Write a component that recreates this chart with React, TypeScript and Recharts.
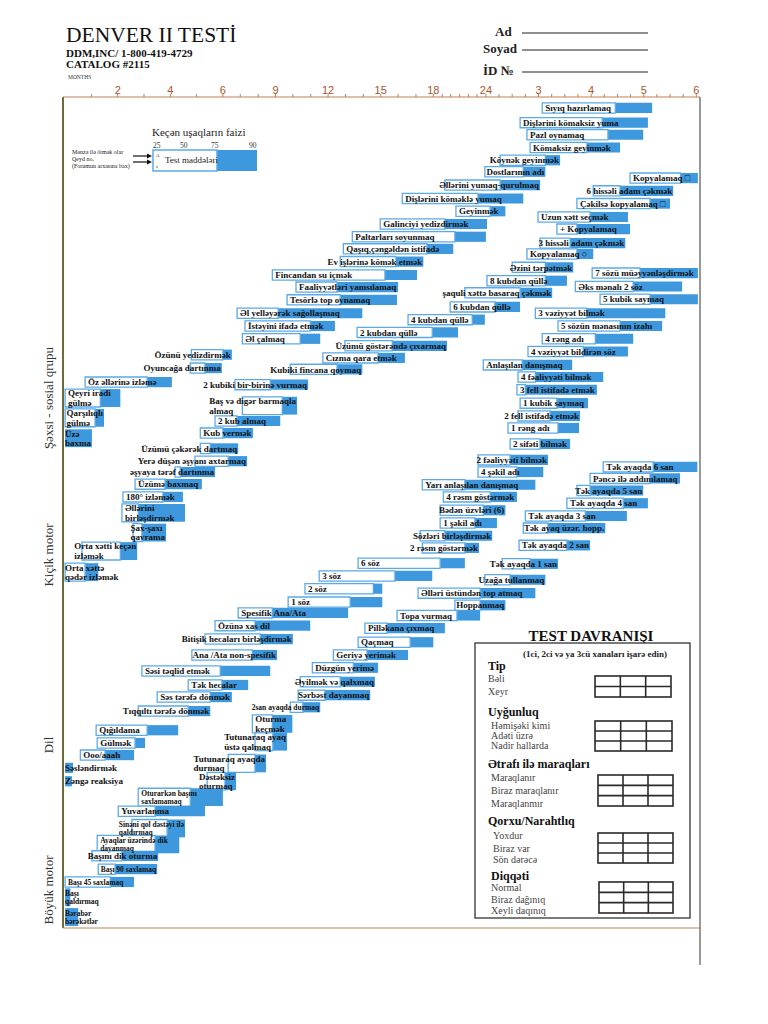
import React from "react"
import { ComposedChart, XAxis, YAxis, ReferenceArea, ReferenceLine, Scatter } from "recharts"

type Item = { name: string; row: number; p25: number; p75: number; p90: number }

// age scale: 1..12 are the printed marks (months 2..24, then years 3..6)
const ageMarks = ["2", "4", "6", "9", "12", "15", "18", "24", "3", "4", "5", "6"]
const majorMarks = [1, 2, 3, 4, 5, 6, 7, 8, 9, 10, 11, 12]
const minorMarks = [
  0.5, 1.5, 2.5, 3.33, 3.67, 4.33, 4.67, 5.33, 5.67, 6.33, 6.67, 7.17, 7.33, 7.5, 7.67, 7.83,
  8.25, 8.5, 8.75, 9.25, 9.5, 9.75, 10.25, 10.5, 10.75, 11.25, 11.5, 11.75,
]

// row = line on the form, p25 / p75 / p90 = age (in axis units) at which that share passes
const personalSocial: Item[] = [
  { name: "Sıyıq hazırlamaq", row: 0, p25: 9.07, p75: 10.46, p90: 11.16 },
  { name: "Dişlərini kömaksiz yuma", row: 1.15, p25: 8.65, p75: 10.21, p90: 11.08 },
  { name: "Pazl oynamaq", row: 2.1, p25: 8.78, p75: 10.32, p90: 10.99 },
  { name: "Kömaksiz geyinmək", row: 3.1, p25: 8.84, p75: 9.92, p90: 10.55 },
  { name: "Köynək geyinmək", row: 4.1, p25: 8.27, p75: 9.13, p90: 9.41 },
  { name: "Dostlarının adı", row: 5.0, p25: 7.98, p75: 8.71, p90: 9.13 },
  { name: "Əllərini yumaq-qurulmaq", row: 6.05, p25: 7.22, p75: 8.27, p90: 9.03 },
  { name: "Dişlərini köməklə yumaq", row: 7.1, p25: 6.41, p75: 7.85, p90: 8.71 },
  { name: "Geyinmək", row: 8.1, p25: 7.43, p75: 8.08, p90: 8.37 },
  { name: "Galinciyi yedizdirmək", row: 9.1, p25: 5.99, p75: 7.22, p90: 8.02 },
  { name: "Paltarları soyunmaq", row: 10.1, p25: 5.46, p75: 7.41, p90: 8.0 },
  { name: "Qaşıq,çəngəldən istifadə", row: 11.05, p25: 5.29, p75: 6.88, p90: 7.38 },
  { name: "Ev işlərinə kömək etmək", row: 12.05, p25: 5.23, p75: 6.29, p90: 6.81 },
  { name: "Fincandan su içmək", row: 13.1, p25: 3.94, p75: 6.08, p90: 6.69 },
  { name: "Faaliyyətləri yamsılamaq", row: 14.05, p25: 4.39, p75: 5.17, p90: 6.33 },
  { name: "Tesörlə top oynamaq", row: 15.05, p25: 4.22, p75: 5.23, p90: 6.31 },
  { name: "Əl yelləyərək sağollaşmaq", row: 16.1, p25: 3.27, p75: 4.05, p90: 5.65 },
  { name: "İstəyini ifadə etmək", row: 17.1, p25: 3.42, p75: 4.66, p90: 5.13 },
  { name: "Əl çalmaq", row: 18.1, p25: 3.37, p75: 4.47, p90: 4.85 },
  { name: "Özünü yedizdirmək", row: 19.35, p25: 2.4, p75: 3.0, p90: 3.17 },
  { name: "Oyuncağa dartınma", row: 20.4, p25: 2.38, p75: 2.66, p90: 2.98 },
  { name: "Öz əllərinə izləmə", row: 21.5, p25: 0.38, p75: 1.56, p90: 2.03 },
  { name: "Qeyri iradi\ngülmə", row: 22.75, p25: 0, p75: 0.67, p90: 1.05 },
  { name: "Qarşılıqlı\ngülmə", row: 24.3, p25: 0, p75: 0.57, p90: 0.74 },
  { name: "Üzə\nbaxma", row: 25.9, p25: 0, p75: 0, p90: 0.51 },
]

const fineMotor: Item[] = [
  { name: "Kopyalamaq □", row: 5.5, p25: 10.74, p75: 11.7, p90: 12.03 },
  { name: "6 hissəli adam çəkmək", row: 6.5, p25: 10.04, p75: 10.55, p90: 11.56 },
  { name: "Çəkilsə kopyalamaq □", row: 7.5, p25: 9.73, p75: 11.12, p90: 11.5 },
  { name: "Uzun xətt seçmək", row: 8.55, p25: 8.99, p75: 9.98, p90: 10.7 },
  { name: "+ Kopyalamaq", row: 9.5, p25: 9.35, p75: 9.73, p90: 10.74 },
  { name: "3 hissəli adam çəkmək", row: 10.6, p25: 9.03, p75: 9.6, p90: 10.65 },
  { name: "Kopyalamaq ○", row: 11.45, p25: 8.78, p75: 9.73, p90: 10.04 },
  { name: "Əzini tərpətmək", row: 12.5, p25: 8.5, p75: 9.13, p90: 9.66 },
  { name: "8 kubdan qüllə", row: 13.55, p25: 8.02, p75: 9.13, p90: 9.54 },
  { name: "şaquli xəttə basaraq çəkmək", row: 14.5, p25: 7.6, p75: 8.65, p90: 9.26 },
  { name: "6 kubdan qüllə", row: 15.6, p25: 7.32, p75: 8.17, p90: 8.65 },
  { name: "4 kubdan qüllə", row: 16.6, p25: 6.52, p75: 7.74, p90: 7.98 },
  { name: "2 kubdan qüllə", row: 17.6, p25: 5.55, p75: 6.98, p90: 7.47 },
  { name: "Üzümü göstərəndə çıxarmaq", row: 18.65, p25: 5.32, p75: 6.22, p90: 7.26 },
  { name: "Cızma qara etmək", row: 19.6, p25: 4.9, p75: 5.95, p90: 6.46 },
  { name: "Kubiki fincana qoymaq", row: 20.5, p25: 4.28, p75: 5.17, p90: 5.65 },
  { name: "2 kubiki bir-birinə vurmaq", row: 21.7, p25: 3.23, p75: 3.9, p90: 4.62 },
  { name: "Baş və digər barmaqla\nalmaq", row: 23.35, p25: 3.37, p75: 4.13, p90: 4.41 },
  { name: "2 kub almaq", row: 24.55, p25: 2.85, p75: 3.27, p90: 4.09 },
  { name: "Kub vermək", row: 25.5, p25: 2.57, p75: 3.0, p90: 3.57 },
  { name: "Üzümü çəkərək dartmaq", row: 26.7, p25: 2.57, p75: 2.76, p90: 3.29 },
  { name: "Yerə düşən əşyanı axtarmaq", row: 27.7, p25: 2.47, p75: 3.1, p90: 3.46 },
  { name: "əşyaya tərəf dartınma", row: 28.55, p25: 2.09, p75: 2.19, p90: 2.85 },
  { name: "Üzümə baxmaq", row: 29.5, p25: 1.33, p75: 1.9, p90: 2.6 },
  { name: "180° izləmək", row: 30.5, p25: 1.1, p75: 1.86, p90: 2.24 },
  { name: "Əllərini\nbirləşdirmək", row: 31.75, p25: 1.08, p75: 1.39, p90: 2.28 },
  { name: "Şax-şaxı\nqavrama", row: 33.3, p25: 1.29, p75: 1.46, p90: 1.92 },
  { name: "Orta xətti keçən\nizləmək", row: 34.75, p25: 0.32, p75: 1.05, p90: 1.37 },
  { name: "Orta xəttə\nqədər izləmək", row: 36.4, p25: 0, p75: 0.38, p90: 0.63 },
]

const language: Item[] = [
  { name: "7 sözü müəyyənləşdirmək", row: 12.95, p25: 10.02, p75: 10.93, p90: 12.03 },
  { name: "Əks mənalı 2 söz", row: 14.0, p25: 9.7, p75: 10.8, p90: 11.73 },
  { name: "5 kubik saymaq", row: 15.0, p25: 10.17, p75: 11.12, p90: 12.03 },
  { name: "3 vəziyyət bilmək", row: 16.1, p25: 8.94, p75: 9.92, p90: 11.41 },
  { name: "5 sözün mənasının izahı", row: 17.1, p25: 9.37, p75: 10.55, p90: 11.35 },
  { name: "4 rəng adı", row: 18.1, p25: 9.07, p75: 10.08, p90: 10.8 },
  { name: "4 vəziyyət bildirən söz", row: 19.1, p25: 8.8, p75: 9.85, p90: 10.7 },
  { name: "Anlaşılan danışmaq", row: 20.15, p25: 7.95, p75: 8.69, p90: 9.64 },
  { name: "4 fəaliyyəti bilmək", row: 21.1, p25: 8.61, p75: 8.94, p90: 10.23 },
  { name: "3 fell istifadə etmək", row: 22.1, p25: 8.59, p75: 8.75, p90: 10.11 },
  { name: "1 kubik saymaq", row: 23.15, p25: 8.65, p75: 9.35, p90: 9.94 },
  { name: "2 fell istifadə etmək", row: 24.15, p25: 8.61, p75: 9.22, p90: 9.79 },
  { name: "1 rəng adı", row: 25.1, p25: 8.42, p75: 9.37, p90: 9.77 },
  { name: "2 sifəti bilmək", row: 26.35, p25: 8.46, p75: 9.03, p90: 9.6 },
  { name: "2 fəaliyyəti bilmək", row: 27.6, p25: 7.85, p75: 8.46, p90: 9.18 },
  { name: "4 şəkil adı", row: 28.55, p25: 7.85, p75: 8.59, p90: 9.09 },
  { name: "Yarı anlaşılan danışmaq", row: 29.55, p25: 6.79, p75: 7.6, p90: 8.94 },
  { name: "4 rəsm göstərmək", row: 30.5, p25: 7.19, p75: 8.08, p90: 8.59 },
  { name: "Bədən üzvləri (6)", row: 31.55, p25: 7.13, p75: 7.95, p90: 8.37 },
  { name: "1 şəkil adı", row: 32.55, p25: 7.13, p75: 7.79, p90: 8.21 },
  { name: "Sözləri birləşdirmək", row: 33.55, p25: 6.75, p75: 7.22, p90: 8.12 },
  { name: "2 rəsm göstərmək", row: 34.5, p25: 6.79, p75: 7.6, p90: 7.87 },
  { name: "6 söz", row: 35.7, p25: 5.57, p75: 7.13, p90: 7.6 },
  { name: "3 söz", row: 36.7, p25: 4.83, p75: 6.27, p90: 6.98 },
  { name: "2 söz", row: 37.7, p25: 4.56, p75: 5.86, p90: 6.03 },
  { name: "1 söz", row: 38.75, p25: 4.24, p75: 5.42, p90: 6.03 },
  { name: "Spesifik Ana/Ata", row: 39.6, p25: 3.29, p75: 3.94, p90: 5.38 },
  { name: "Özünə xas dil", row: 40.6, p25: 2.85, p75: 3.61, p90: 4.66 },
  { name: "Bitişik hecaları birləşdirmək", row: 41.65, p25: 2.66, p75: 3.71, p90: 4.33 },
  { name: "Ana /Ata non-spesifik", row: 42.9, p25: 2.41, p75: 3.56, p90: 4.03 },
  { name: "Səsi təqlid etmək", row: 44.15, p25: 1.46, p75: 2.95, p90: 3.9 },
  { name: "Tək hecalar", row: 45.25, p25: 2.34, p75: 2.98, p90: 3.48 },
  { name: "Səs tərəfə dönmək", row: 46.2, p25: 1.75, p75: 2.76, p90: 3.17 },
  { name: "Tıqqıltı tərəfə dönmək", row: 47.3, p25: 1.39, p75: 2.34, p90: 2.76 },
  { name: "Qığıldama", row: 48.8, p25: 0.59, p75: 1.56, p90: 2.15 },
  { name: "Gülmək", row: 49.8, p25: 0.61, p75: 1.33, p90: 1.52 },
  { name: "Ooo/aaah", row: 50.75, p25: 0.29, p75: 0.76, p90: 1.31 },
  { name: "Səsləndirmək", row: 51.75, p25: 0, p75: 0, p90: 0.15 },
  { name: "Zəngə reaksiya", row: 52.8, p25: 0, p75: 0, p90: 0.13 },
]

const grossMotor: Item[] = [
  { name: "Tək ayaqda 6 san", row: 28.15, p25: 10.23, p75: 11.18, p90: 12.02 },
  { name: "Pəncə ilə addımlamaq", row: 29.05, p25: 9.98, p75: 11.12, p90: 11.69 },
  { name: "Tək ayaqda 5 san", row: 30.0, p25: 9.73, p75: 9.98, p90: 10.99 },
  { name: "Tək ayaqda 4 san", row: 31.0, p25: 9.54, p75: 10.61, p90: 11.08 },
  { name: "Tək ayaqda 3 san", row: 32.0, p25: 8.75, p75: 9.89, p90: 10.68 },
  { name: "Tək ayaq üzər. hopp.", row: 32.95, p25: 8.71, p75: 9.18, p90: 10.27 },
  { name: "Tək ayaqda 2 san", row: 34.3, p25: 8.63, p75: 9.54, p90: 9.98 },
  { name: "Tək ayaqda 1 san", row: 35.75, p25: 8.31, p75: 8.84, p90: 9.37 },
  { name: "Uzağa tullanmaq", row: 37.0, p25: 7.98, p75: 8.46, p90: 9.13 },
  { name: "Əlləri üstündən top atmaq", row: 38.05, p25: 6.71, p75: 7.89, p90: 8.94 },
  { name: "Hoppanmaq", row: 39.0, p25: 7.41, p75: 7.89, p90: 8.37 },
  { name: "Topa vurmaq", row: 39.8, p25: 6.31, p75: 7.45, p90: 7.89 },
  { name: "Pilləkana çıxmaq", row: 40.8, p25: 5.7, p75: 6.12, p90: 7.22 },
  { name: "Qaçmaq", row: 41.9, p25: 5.57, p75: 6.56, p90: 7.0 },
  { name: "Geriyə yerimək", row: 42.9, p25: 5.1, p75: 5.74, p90: 6.52 },
  { name: "Düzgün yerimə", row: 43.9, p25: 4.7, p75: 5.48, p90: 5.95 },
  { name: "Əyilmək və qalxmaq", row: 45.0, p25: 4.47, p75: 5.23, p90: 5.89 },
  { name: "Sərbəst dayanmaq", row: 46.05, p25: 4.43, p75: 4.94, p90: 5.8 },
  { name: "2san ayaqda durmaq", row: 47.0, p25: 4.28, p75: 4.52, p90: 4.85 },
  { name: "Oturma\nkeçmək", row: 48.3, p25: 3.56, p75: 3.94, p90: 4.32 },
  { name: "Tutunaraq ayaq\nüstə qalmaq", row: 49.7, p25: 3.61, p75: 3.95, p90: 4.22 },
  { name: "Tutunaraq ayaqda\ndurmaq", row: 51.4, p25: 3.1, p75: 3.61, p90: 3.82 },
  { name: "Dəstəksiz\noturmaq", row: 52.8, p25: 2.7, p75: 3.04, p90: 3.25 },
  { name: "Oturarkən başını\nsaxlamamaq", row: 54.05, p25: 1.39, p75: 2.38, p90: 3.0 },
  { name: "Yuvarlanma", row: 55.15, p25: 1.01, p75: 1.71, p90: 2.66 },
  { name: "Sinəni qol dəstəyi ilə\nqaldırmaq", row: 56.5, p25: 1.27, p75: 1.94, p90: 2.28 },
  { name: "Ayaqlar üzərində dik\ndayanmaq", row: 57.75, p25: 0.61, p75: 1.71, p90: 2.17 },
  { name: "Başını dik oturma", row: 58.65, p25: 0.51, p75: 1.08, p90: 1.77 },
  { name: "Başı 90 saxlamaq", row: 59.7, p25: 0.63, p75: 0.95, p90: 1.75 },
  { name: "Başı 45 saxlamaq", row: 60.7, p25: 0, p75: 0.86, p90: 1.31 },
  { name: "Başı\nqaldırmaq", row: 61.9, p25: 0, p75: 0, p90: 0.1 },
  { name: "Bərabər\nhərəkətlər", row: 63.45, p25: 0, p75: 0, p90: 0.25 },
]

const allItems = [...personalSocial, ...fineMotor, ...language, ...grossMotor]

// items printed in small type on the form
const smallPrint = new Set([
  "2san ayaqda durmaq",
  "Oturarkən başını\nsaxlamamaq",
  "Sinəni qol dəstəyi ilə\nqaldırmaq",
  "Ayaqlar üzərində dik\ndayanmaq",
  "Başı 90 saxlamaq",
  "Başı 45 saxlamaq",
  "Başı\nqaldırmaq",
  "Bərabər\nhərəkətlər",
])

const X_MIN = -0.04
const X_MAX = 12.07
const Y_MIN = -0.86
const Y_MAX = 64.31
const PLOT_LEFT = 63

const BLUE = "#3d98de"
const EDGE = "#5aaae8"

let measureCtx: CanvasRenderingContext2D | null = null
function measure(s: string, size: number) {
  if (!measureCtx) measureCtx = document.createElement("canvas").getContext("2d")
  if (!measureCtx) return s.length * size * 0.48
  measureCtx.font = `bold ${size}px 'Liberation Serif'`
  return measureCtx.measureText(s).width
}

// text starts inside the white box; if it would run past the bar it ends at the bar's end
function makeLabel(text: string) {
  const size = smallPrint.has(text) ? 7.5 : 9
  return (props: any) => {
    const vb = props.viewBox
    if (!vb) return null
    const lines = text.split("\n")
    const w = Math.max(...lines.map((l) => measure(l, size)))
    let left = vb.x + 3
    if (left + w > vb.x + vb.width - 1) left = vb.x + vb.width - w - 1
    if (left < PLOT_LEFT + 2) left = PLOT_LEFT + 2
    const lh = size + 0.5
    const first = vb.y + vb.height / 2 - ((lines.length - 1) * lh) / 2 + size * 0.35
    return (
      <text x={left} y={first} fontFamily="'Liberation Serif', serif" fontSize={size} fontWeight="bold" fill="#111">
        {lines.map((l, i) => (
          <tspan key={i} x={left} dy={i === 0 ? 0 : lh}>
            {l}
          </tspan>
        ))}
      </text>
    )
  }
}

function TopTick(props: any) {
  const { x, y, payload } = props
  const v = payload.value
  if (!Number.isInteger(v)) return <g />
  return (
    <text x={x} y={y + 2} textAnchor="middle" fontSize={11} fontFamily="'Liberation Sans', sans-serif" fill="#a8552f">
      {ageMarks[v - 1]}
    </text>
  )
}

function BottomTick(props: any) {
  const { x, y, payload } = props
  const v = payload.value
  if (!Number.isInteger(v)) return <g />
  if (v === 9) {
    return (
      <text x={x - 4} y={y + 11} fontSize={11} fontFamily="'Liberation Sans', sans-serif" fill="#2f3550">
        3<tspan fontSize={6.5} dx={3}>YEARS</tspan>
      </text>
    )
  }
  return (
    <text x={x} y={y + 11} textAnchor="middle" fontSize={11} fontFamily="'Liberation Sans', sans-serif" fill="#2f3550">
      {ageMarks[v - 1]}
    </text>
  )
}

function Grid({ x1, y1, x2, y2, rows }: { x1: number; y1: number; x2: number; y2: number; rows: number }) {
  const cw = (x2 - x1) / 3
  const rh = (y2 - y1) / rows
  const hs = Array.from({ length: rows - 1 }, (_, i) => y1 + rh * (i + 1))
  return (
    <g stroke="#2a2a2a" strokeWidth={1.6} fill="none">
      <rect x={x1} y={y1} width={x2 - x1} height={y2 - y1} />
      <line x1={x1 + cw} y1={y1} x2={x1 + cw} y2={y2} />
      <line x1={x1 + 2 * cw} y1={y1} x2={x1 + 2 * cw} y2={y2} />
      {hs.map((h, i) => (
        <line key={i} x1={x1} y1={h} x2={x2} y2={h} />
      ))}
    </g>
  )
}

function Overlay() {
  const head = { fontWeight: "bold" as const, fontSize: 12, fill: "#111" }
  const item = { fontSize: 10, fill: "#444" }
  return (
    <svg
      width={768}
      height={1024}
      style={{ position: "absolute", left: 0, top: 0, pointerEvents: "none" }}
      fontFamily="'Liberation Serif', serif"
    >
      <text x={66} y={42} fontSize={21.5} fill="#111">DENVER II TESTİ</text>
      <text x={66} y={57} fontSize={11} fontWeight="bold" fill="#111">DDM,INC/ 1-800-419-4729</text>
      <text x={66} y={68} fontSize={11} fontWeight="bold" fill="#111">CATALOG #2115</text>
      <text x={68} y={79} fontSize={5.5} fill="#333">MONTHS</text>

      <text x={495} y={36} fontSize={13} fontWeight="bold" fill="#222">Ad</text>
      <line x1={522} y1={33} x2={648} y2={33} stroke="#222" strokeWidth={1.2} />
      <text x={483} y={53} fontSize={13} fontWeight="bold" fill="#222">Soyad</text>
      <line x1={522} y1={50} x2={648} y2={50} stroke="#222" strokeWidth={1.2} />
      <text x={483} y={75} fontSize={13} fontWeight="bold" fill="#222">İD №</text>
      <line x1={522} y1={72} x2={648} y2={72} stroke="#222" strokeWidth={1.2} />

      <line x1={700} y1={928} x2={700} y2={965} stroke="#777" strokeWidth={1.5} />

      {[
        ["Şəxsi - sosial qrupu", 398],
        ["Kiçik motor", 555],
        ["Dil", 745],
        ["Böyük motor", 890],
      ].map(([t, cy]) => (
        <text
          key={t as string}
          x={53}
          y={cy as number}
          transform={`rotate(-90 53 ${cy})`}
          textAnchor="middle"
          fontSize={13}
          fill="#333"
        >
          {t}
        </text>
      ))}

      {/* legend */}
      <text x={152} y={136} fontSize={11} fill="#222">Keçən uşaqların faizi</text>
      {[
        ["25", 153],
        ["50", 180],
        ["75", 211],
        ["90", 249],
      ].map(([t, x]) => (
        <text key={t as string} x={x as number} y={148} fontSize={7.5} fill="#333">{t}</text>
      ))}
      <rect x={153} y={150} width={104} height={21} fill={BLUE} />
      <rect x={153} y={150} width={64} height={21} fill="#fff" stroke={EDGE} strokeWidth={1.5} />
      <text x={165} y={163} fontSize={9} fill="#222">Test maddələri</text>
      <text x={156} y={157} fontSize={5} fill="#222">A</text>
      <text x={156} y={168} fontSize={5} fill="#222">s</text>
      <text x={72} y={154} fontSize={6} fill="#222">Mənzə ilə ötmək olar</text>
      <text x={72} y={161} fontSize={6} fill="#222">Qeyd no.</text>
      <text x={72} y={168} fontSize={6} fill="#222">(Forumun arxasına bax)</text>
      <g stroke="#111" strokeWidth={1.2}>
        <line x1={133} y1={156} x2={148} y2={156} />
        <line x1={133} y1={162} x2={148} y2={162} />
      </g>
      <polygon points="152,156 147,153.5 147,158.5" fill="#111" />
      <polygon points="152,162 147,159.5 147,164.5" fill="#111" />

      {/* test behaviour box */}
      <text x={591} y={641} textAnchor="middle" fontSize={15} fontWeight="bold" fill="#111">TEST DAVRANIŞI</text>
      <rect x={475} y={643} width={215} height={275} fill="#fff" stroke="#333" strokeWidth={1.3} />
      <text x={595} y={657} textAnchor="middle" fontSize={9} fontWeight="bold" fill="#222">
        (1ci, 2ci və ya 3cü xanaları işarə edin)
      </text>
      <text x={488} y={670} {...head}>Tip</text>
      <text x={488} y={682} {...item}>Bəli</text>
      <text x={488} y={695} {...item}>Xeyr</text>
      <Grid x1={595} y1={676} x2={671} y2={697} rows={2} />

      <text x={488} y={716} {...head}>Uyğunluq</text>
      <text x={491} y={729} {...item}>Həmişəki kimi</text>
      <text x={491} y={739} {...item}>Adəti üzrə</text>
      <text x={491} y={749} {...item}>Nadir hallarda</text>
      <Grid x1={595} y1={721} x2={672} y2={751} rows={3} />

      <text x={488} y={768} {...head}>Ətrafı ilə maraqları</text>
      <text x={491} y={781} {...item}>Maraqlanır</text>
      <text x={491} y={794} {...item}>Biraz maraqlanır</text>
      <text x={491} y={807} {...item}>Maraqlanmır</text>
      <Grid x1={598} y1={775} x2={673} y2={806} rows={3} />

      <text x={488} y={825} {...head}>Qorxu/Narahtlıq</text>
      <text x={493} y={839} {...item}>Yoxdur</text>
      <text x={493} y={852} {...item}>Biraz var</text>
      <text x={493} y={863} {...item}>Sön dərəcə</text>
      <Grid x1={598} y1={833} x2={673} y2={863} rows={3} />

      <text x={491} y={880} {...head}>Diqqəti</text>
      <text x={491} y={891} {...item}>Normal</text>
      <text x={491} y={903} {...item}>Biraz dağınıq</text>
      <text x={491} y={914} {...item}>Xeyli daqınıq</text>
      <Grid x1={599} y1={882} x2={673} y2={913} rows={3} />
    </svg>
  )
}

export default function App() {
  const anchors = allItems.map((it) => ({ x: it.p25, y: it.row }))
  const span = (it: Item) => 0.4 + 0.3 * (it.name.split("\n").length - 1)

  return (
    <div style={{ position: "absolute", left: 0, top: 0, width: 768, height: 1024, background: "#fff" }}>
      <ComposedChart width={768} height={1024} margin={{ top: 85, right: 68, bottom: 82, left: 63 }}>
        <XAxis
          xAxisId="top"
          orientation="top"
          type="number"
          dataKey="x"
          domain={[X_MIN, X_MAX]}
          allowDataOverflow
          ticks={[...majorMarks, ...minorMarks]}
          interval={0}
          height={12}
          tickSize={3}
          tickMargin={2}
          stroke="#c08050"
          tick={<TopTick />}
        />
        <XAxis
          xAxisId="bottom"
          orientation="bottom"
          type="number"
          domain={[X_MIN, X_MAX]}
          allowDataOverflow
          ticks={[...majorMarks, ...minorMarks]}
          interval={0}
          height={14}
          tickSize={4}
          tickMargin={2}
          stroke="#b98a5c"
          tick={<BottomTick />}
        />
        <YAxis type="number" dataKey="y" domain={[Y_MIN, Y_MAX]} allowDataOverflow reversed hide />

        <ReferenceLine xAxisId="top" x={X_MIN} stroke="#6d6a3c" strokeWidth={2} ifOverflow="visible" />
        <ReferenceLine xAxisId="top" x={X_MAX} stroke="#777" strokeWidth={1.5} ifOverflow="visible" />

        {allItems.flatMap((it, i) => {
          const h = span(it)
          const out = []
          if (it.p90 > it.p75)
            out.push(
              <ReferenceArea
                key={`b${i}`}
                xAxisId="top"
                x1={it.p75}
                x2={it.p90}
                y1={it.row - h}
                y2={it.row + h}
                fill={BLUE}
                fillOpacity={1}
                stroke="none"
                ifOverflow="visible"
              />
            )
          if (it.p75 > it.p25)
            out.push(
              <ReferenceArea
                key={`w${i}`}
                xAxisId="top"
                x1={it.p25}
                x2={it.p75}
                y1={it.row - h}
                y2={it.row + h}
                fill="#fff"
                fillOpacity={1}
                stroke={EDGE}
                strokeWidth={1.3}
                ifOverflow="visible"
              />
            )
          return out
        })}

        {allItems.map((it, i) => {
          const h = span(it)
          return (
            <ReferenceArea
              key={`l${i}`}
              xAxisId="top"
              x1={it.p25}
              x2={it.p90}
              y1={it.row - h}
              y2={it.row + h}
              fill="none"
              fillOpacity={0}
              stroke="none"
              ifOverflow="visible"
              label={makeLabel(it.name)}
            />
          )
        })}

        <Scatter xAxisId="top" data={anchors} isAnimationActive={false} shape={() => <g />} legendType="none" />
      </ComposedChart>
      <Overlay />
    </div>
  )
}
